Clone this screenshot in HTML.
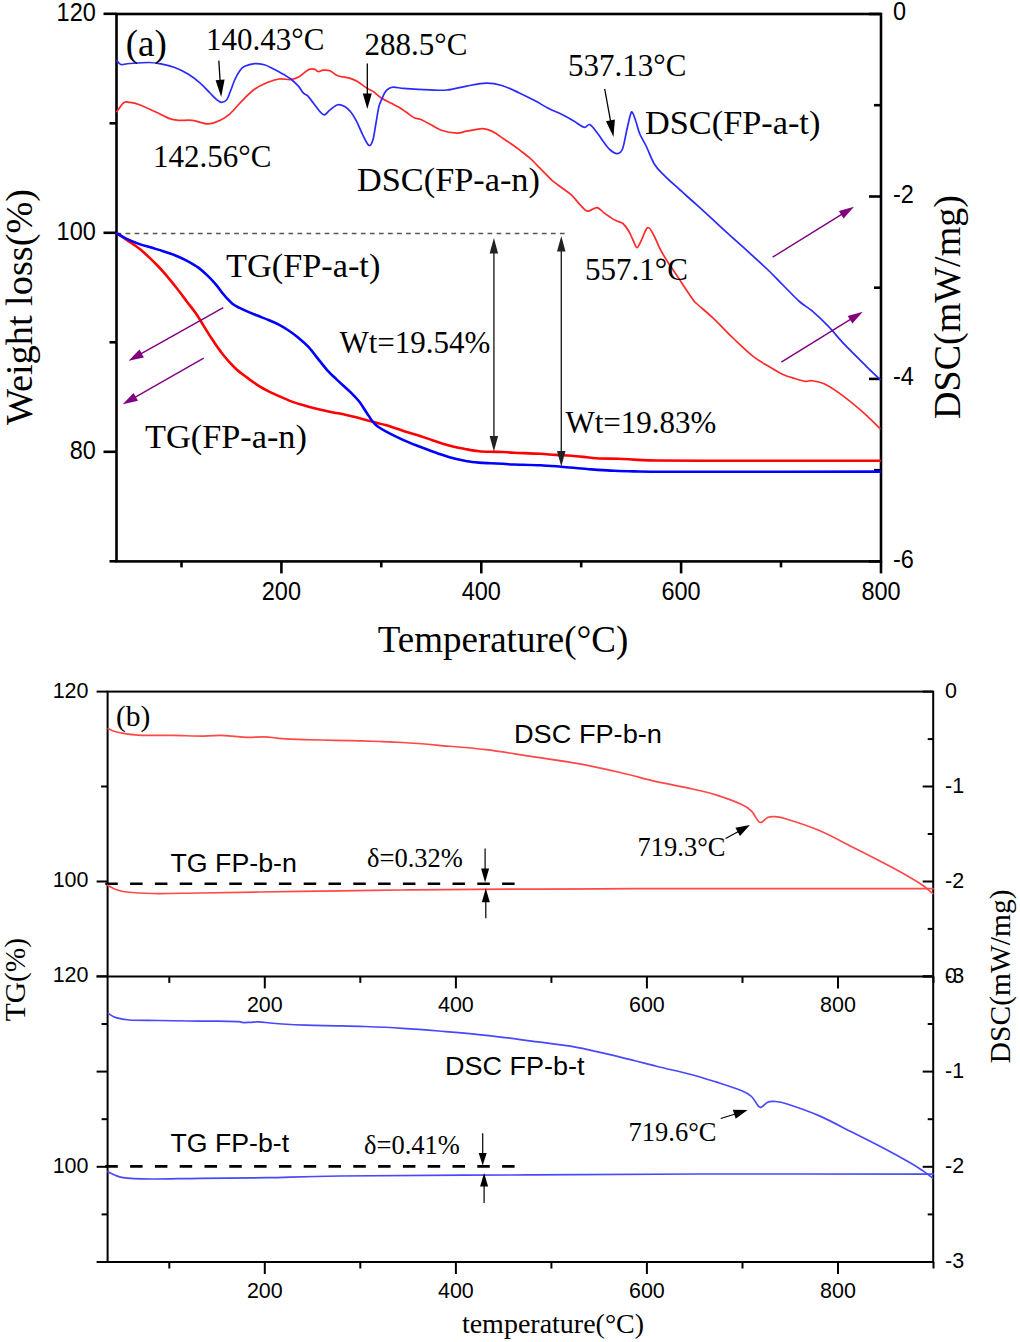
<!DOCTYPE html>
<html><head><meta charset="utf-8"><style>
html,body{margin:0;padding:0;background:#fff;width:1020px;height:1342px;overflow:hidden}
svg{display:block}
</style></head><body>
<svg width="1020" height="1342" viewBox="0 0 1020 1342">
<rect width="1020" height="1342" fill="#fff"/>
<rect x="116.5" y="14.0" width="764.5" height="547.4" fill="none" stroke="#000" stroke-width="2.6"/>
<line x1="181.5" y1="561.4" x2="181.5" y2="567.4" stroke="#000" stroke-width="2.60" />
<line x1="281.4" y1="561.4" x2="281.4" y2="573.4" stroke="#000" stroke-width="2.60" />
<text x="281.4" y="600.0" style="font-family:'Liberation Sans',sans-serif;font-size:25.0px" text-anchor="middle" fill="#000"  transform="translate(281.40,0) scale(0.9400,1) translate(-281.40,0)">200</text>
<line x1="381.3" y1="561.4" x2="381.3" y2="567.4" stroke="#000" stroke-width="2.60" />
<line x1="481.3" y1="561.4" x2="481.3" y2="573.4" stroke="#000" stroke-width="2.60" />
<text x="481.3" y="600.0" style="font-family:'Liberation Sans',sans-serif;font-size:25.0px" text-anchor="middle" fill="#000"  transform="translate(481.26,0) scale(0.9400,1) translate(-481.26,0)">400</text>
<line x1="581.2" y1="561.4" x2="581.2" y2="567.4" stroke="#000" stroke-width="2.60" />
<line x1="681.1" y1="561.4" x2="681.1" y2="573.4" stroke="#000" stroke-width="2.60" />
<text x="681.1" y="600.0" style="font-family:'Liberation Sans',sans-serif;font-size:25.0px" text-anchor="middle" fill="#000"  transform="translate(681.12,0) scale(0.9400,1) translate(-681.12,0)">600</text>
<line x1="781.0" y1="561.4" x2="781.0" y2="567.4" stroke="#000" stroke-width="2.60" />
<line x1="881.0" y1="561.4" x2="881.0" y2="573.4" stroke="#000" stroke-width="2.60" />
<text x="881.0" y="600.0" style="font-family:'Liberation Sans',sans-serif;font-size:25.0px" text-anchor="middle" fill="#000"  transform="translate(880.98,0) scale(0.9400,1) translate(-880.98,0)">800</text>
<line x1="116.5" y1="13.8" x2="103.5" y2="13.8" stroke="#000" stroke-width="2.60" />
<text x="95.8" y="20.6" style="font-family:'Liberation Sans',sans-serif;font-size:25.0px" text-anchor="end" fill="#000"  transform="translate(95.80,0) scale(0.9400,1) translate(-95.80,0)">120</text>
<line x1="116.5" y1="123.3" x2="109.5" y2="123.3" stroke="#000" stroke-width="2.60" />
<line x1="116.5" y1="232.8" x2="103.5" y2="232.8" stroke="#000" stroke-width="2.60" />
<text x="95.8" y="239.6" style="font-family:'Liberation Sans',sans-serif;font-size:25.0px" text-anchor="end" fill="#000"  transform="translate(95.80,0) scale(0.9400,1) translate(-95.80,0)">100</text>
<line x1="116.5" y1="342.3" x2="109.5" y2="342.3" stroke="#000" stroke-width="2.60" />
<line x1="116.5" y1="451.8" x2="103.5" y2="451.8" stroke="#000" stroke-width="2.60" />
<text x="95.8" y="458.6" style="font-family:'Liberation Sans',sans-serif;font-size:25.0px" text-anchor="end" fill="#000"  transform="translate(95.80,0) scale(0.9400,1) translate(-95.80,0)">80</text>
<line x1="116.5" y1="561.3" x2="109.5" y2="561.3" stroke="#000" stroke-width="2.60" />
<line x1="881.0" y1="14.0" x2="869.0" y2="14.0" stroke="#000" stroke-width="2.60" />
<text x="893.0" y="20.3" style="font-family:'Liberation Sans',sans-serif;font-size:25.0px" text-anchor="start" fill="#000"  transform="translate(893.00,0) scale(0.9400,1) translate(-893.00,0)">0</text>
<line x1="881.0" y1="105.2" x2="874.0" y2="105.2" stroke="#000" stroke-width="2.60" />
<line x1="881.0" y1="196.5" x2="869.0" y2="196.5" stroke="#000" stroke-width="2.60" />
<text x="893.0" y="202.8" style="font-family:'Liberation Sans',sans-serif;font-size:25.0px" text-anchor="start" fill="#000"  transform="translate(893.00,0) scale(0.9400,1) translate(-893.00,0)">-2</text>
<line x1="881.0" y1="287.7" x2="874.0" y2="287.7" stroke="#000" stroke-width="2.60" />
<line x1="881.0" y1="378.9" x2="869.0" y2="378.9" stroke="#000" stroke-width="2.60" />
<text x="893.0" y="385.2" style="font-family:'Liberation Sans',sans-serif;font-size:25.0px" text-anchor="start" fill="#000"  transform="translate(893.00,0) scale(0.9400,1) translate(-893.00,0)">-4</text>
<line x1="881.0" y1="470.2" x2="874.0" y2="470.2" stroke="#000" stroke-width="2.60" />
<line x1="881.0" y1="561.4" x2="869.0" y2="561.4" stroke="#000" stroke-width="2.60" />
<text x="893.0" y="567.7" style="font-family:'Liberation Sans',sans-serif;font-size:25.0px" text-anchor="start" fill="#000"  transform="translate(893.00,0) scale(0.9400,1) translate(-893.00,0)">-6</text>
<text x="0.0" y="0.0" style="font-family:'Liberation Serif',serif;font-size:38.3px" text-anchor="middle" fill="#000" transform="translate(32,307) rotate(-90)">Weight loss(%)</text>
<text x="0.0" y="0.0" style="font-family:'Liberation Serif',serif;font-size:38.0px" text-anchor="middle" fill="#000" transform="translate(960,307) rotate(-90)">DSC(mW/mg)</text>
<text x="503.0" y="652.0" style="font-family:'Liberation Serif',serif;font-size:37.0px" text-anchor="middle" fill="#000" >Temperature(°C)</text>
<rect x="107.6" y="691.6" width="825.6" height="570.4" fill="none" stroke="#000" stroke-width="2.0"/>
<line x1="107.6" y1="976.4" x2="933.2" y2="976.4" stroke="#000" stroke-width="2.00" />
<line x1="169.3" y1="976.4" x2="169.3" y2="982.9" stroke="#000" stroke-width="2.00" />
<line x1="264.8" y1="976.4" x2="264.8" y2="988.4" stroke="#000" stroke-width="2.00" />
<text x="264.8" y="1012.5" style="font-family:'Liberation Sans',sans-serif;font-size:22.5px" text-anchor="middle" fill="#000"  transform="translate(264.80,0) scale(0.9550,1) translate(-264.80,0)">200</text>
<line x1="360.3" y1="976.4" x2="360.3" y2="982.9" stroke="#000" stroke-width="2.00" />
<line x1="455.9" y1="976.4" x2="455.9" y2="988.4" stroke="#000" stroke-width="2.00" />
<text x="455.9" y="1012.5" style="font-family:'Liberation Sans',sans-serif;font-size:22.5px" text-anchor="middle" fill="#000"  transform="translate(455.86,0) scale(0.9550,1) translate(-455.86,0)">400</text>
<line x1="551.4" y1="976.4" x2="551.4" y2="982.9" stroke="#000" stroke-width="2.00" />
<line x1="646.9" y1="976.4" x2="646.9" y2="988.4" stroke="#000" stroke-width="2.00" />
<text x="646.9" y="1012.5" style="font-family:'Liberation Sans',sans-serif;font-size:22.5px" text-anchor="middle" fill="#000"  transform="translate(646.92,0) scale(0.9550,1) translate(-646.92,0)">600</text>
<line x1="742.5" y1="976.4" x2="742.5" y2="982.9" stroke="#000" stroke-width="2.00" />
<line x1="838.0" y1="976.4" x2="838.0" y2="988.4" stroke="#000" stroke-width="2.00" />
<text x="838.0" y="1012.5" style="font-family:'Liberation Sans',sans-serif;font-size:22.5px" text-anchor="middle" fill="#000"  transform="translate(837.98,0) scale(0.9550,1) translate(-837.98,0)">800</text>
<line x1="933.5" y1="976.4" x2="933.5" y2="982.9" stroke="#000" stroke-width="2.00" />
<line x1="107.6" y1="691.6" x2="96.6" y2="691.6" stroke="#000" stroke-width="2.00" />
<text x="88.5" y="697.6" style="font-family:'Liberation Sans',sans-serif;font-size:22.5px" text-anchor="end" fill="#000"  transform="translate(88.50,0) scale(0.9550,1) translate(-88.50,0)">120</text>
<line x1="107.6" y1="786.5" x2="101.1" y2="786.5" stroke="#000" stroke-width="2.00" />
<line x1="107.6" y1="881.5" x2="96.6" y2="881.5" stroke="#000" stroke-width="2.00" />
<text x="88.5" y="887.5" style="font-family:'Liberation Sans',sans-serif;font-size:22.5px" text-anchor="end" fill="#000"  transform="translate(88.50,0) scale(0.9550,1) translate(-88.50,0)">100</text>
<line x1="107.6" y1="976.4" x2="96.6" y2="976.4" stroke="#000" stroke-width="2.00" />
<line x1="933.2" y1="691.6" x2="922.7" y2="691.6" stroke="#000" stroke-width="2.00" />
<line x1="933.2" y1="739.1" x2="927.7" y2="739.1" stroke="#000" stroke-width="2.00" />
<line x1="933.2" y1="786.5" x2="922.7" y2="786.5" stroke="#000" stroke-width="2.00" />
<line x1="933.2" y1="834.0" x2="927.7" y2="834.0" stroke="#000" stroke-width="2.00" />
<line x1="933.2" y1="881.5" x2="922.7" y2="881.5" stroke="#000" stroke-width="2.00" />
<line x1="933.2" y1="928.9" x2="927.7" y2="928.9" stroke="#000" stroke-width="2.00" />
<line x1="933.2" y1="976.4" x2="922.7" y2="976.4" stroke="#000" stroke-width="2.00" />
<line x1="169.3" y1="1262.0" x2="169.3" y2="1268.5" stroke="#000" stroke-width="2.00" />
<line x1="264.8" y1="1262.0" x2="264.8" y2="1274.0" stroke="#000" stroke-width="2.00" />
<text x="264.8" y="1298.2" style="font-family:'Liberation Sans',sans-serif;font-size:22.5px" text-anchor="middle" fill="#000"  transform="translate(264.80,0) scale(0.9550,1) translate(-264.80,0)">200</text>
<line x1="360.3" y1="1262.0" x2="360.3" y2="1268.5" stroke="#000" stroke-width="2.00" />
<line x1="455.9" y1="1262.0" x2="455.9" y2="1274.0" stroke="#000" stroke-width="2.00" />
<text x="455.9" y="1298.2" style="font-family:'Liberation Sans',sans-serif;font-size:22.5px" text-anchor="middle" fill="#000"  transform="translate(455.86,0) scale(0.9550,1) translate(-455.86,0)">400</text>
<line x1="551.4" y1="1262.0" x2="551.4" y2="1268.5" stroke="#000" stroke-width="2.00" />
<line x1="646.9" y1="1262.0" x2="646.9" y2="1274.0" stroke="#000" stroke-width="2.00" />
<text x="646.9" y="1298.2" style="font-family:'Liberation Sans',sans-serif;font-size:22.5px" text-anchor="middle" fill="#000"  transform="translate(646.92,0) scale(0.9550,1) translate(-646.92,0)">600</text>
<line x1="742.5" y1="1262.0" x2="742.5" y2="1268.5" stroke="#000" stroke-width="2.00" />
<line x1="838.0" y1="1262.0" x2="838.0" y2="1274.0" stroke="#000" stroke-width="2.00" />
<text x="838.0" y="1298.2" style="font-family:'Liberation Sans',sans-serif;font-size:22.5px" text-anchor="middle" fill="#000"  transform="translate(837.98,0) scale(0.9550,1) translate(-837.98,0)">800</text>
<line x1="933.5" y1="1262.0" x2="933.5" y2="1268.5" stroke="#000" stroke-width="2.00" />
<line x1="107.6" y1="976.4" x2="96.6" y2="976.4" stroke="#000" stroke-width="2.00" />
<text x="88.5" y="982.4" style="font-family:'Liberation Sans',sans-serif;font-size:22.5px" text-anchor="end" fill="#000"  transform="translate(88.50,0) scale(0.9550,1) translate(-88.50,0)">120</text>
<line x1="107.6" y1="1024.0" x2="101.6" y2="1024.0" stroke="#000" stroke-width="2.00" />
<line x1="107.6" y1="1071.6" x2="96.6" y2="1071.6" stroke="#000" stroke-width="2.00" />
<line x1="107.6" y1="1119.2" x2="101.6" y2="1119.2" stroke="#000" stroke-width="2.00" />
<line x1="107.6" y1="1166.8" x2="96.6" y2="1166.8" stroke="#000" stroke-width="2.00" />
<text x="88.5" y="1172.8" style="font-family:'Liberation Sans',sans-serif;font-size:22.5px" text-anchor="end" fill="#000"  transform="translate(88.50,0) scale(0.9550,1) translate(-88.50,0)">100</text>
<line x1="107.6" y1="1214.4" x2="101.6" y2="1214.4" stroke="#000" stroke-width="2.00" />
<line x1="107.6" y1="1262.0" x2="96.6" y2="1262.0" stroke="#000" stroke-width="2.00" />
<line x1="933.2" y1="976.4" x2="922.7" y2="976.4" stroke="#000" stroke-width="2.00" />
<line x1="933.2" y1="1024.0" x2="927.7" y2="1024.0" stroke="#000" stroke-width="2.00" />
<line x1="933.2" y1="1071.6" x2="922.7" y2="1071.6" stroke="#000" stroke-width="2.00" />
<line x1="933.2" y1="1119.2" x2="927.7" y2="1119.2" stroke="#000" stroke-width="2.00" />
<line x1="933.2" y1="1166.8" x2="922.7" y2="1166.8" stroke="#000" stroke-width="2.00" />
<line x1="933.2" y1="1214.4" x2="927.7" y2="1214.4" stroke="#000" stroke-width="2.00" />
<line x1="933.2" y1="1262.0" x2="922.7" y2="1262.0" stroke="#000" stroke-width="2.00" />
<text x="945.0" y="698.1" style="font-family:'Liberation Sans',sans-serif;font-size:22.5px" text-anchor="start" fill="#000"  transform="translate(945.00,0) scale(0.9550,1) translate(-945.00,0)">0</text>
<text x="945.0" y="793.0" style="font-family:'Liberation Sans',sans-serif;font-size:22.5px" text-anchor="start" fill="#000"  transform="translate(945.00,0) scale(0.9550,1) translate(-945.00,0)">-1</text>
<text x="945.0" y="888.0" style="font-family:'Liberation Sans',sans-serif;font-size:22.5px" text-anchor="start" fill="#000"  transform="translate(945.00,0) scale(0.9550,1) translate(-945.00,0)">-2</text>
<text x="945.0" y="982.9" style="font-family:'Liberation Sans',sans-serif;font-size:22.5px" text-anchor="start" fill="#000"  transform="translate(945.00,0) scale(0.9550,1) translate(-945.00,0)">-3</text>
<text x="945.0" y="982.9" style="font-family:'Liberation Sans',sans-serif;font-size:22.5px" text-anchor="start" fill="#000"  transform="translate(945.00,0) scale(0.9550,1) translate(-945.00,0)">0</text>
<text x="945.0" y="1078.1" style="font-family:'Liberation Sans',sans-serif;font-size:22.5px" text-anchor="start" fill="#000"  transform="translate(945.00,0) scale(0.9550,1) translate(-945.00,0)">-1</text>
<text x="945.0" y="1173.3" style="font-family:'Liberation Sans',sans-serif;font-size:22.5px" text-anchor="start" fill="#000"  transform="translate(945.00,0) scale(0.9550,1) translate(-945.00,0)">-2</text>
<text x="945.0" y="1268.5" style="font-family:'Liberation Sans',sans-serif;font-size:22.5px" text-anchor="start" fill="#000"  transform="translate(945.00,0) scale(0.9550,1) translate(-945.00,0)">-3</text>
<text x="0.0" y="0.0" style="font-family:'Liberation Serif',serif;font-size:29.5px" text-anchor="middle" fill="#000" transform="translate(24.5,979.6) rotate(-90)">TG(%)</text>
<text x="0.0" y="0.0" style="font-family:'Liberation Serif',serif;font-size:29.5px" text-anchor="middle" fill="#000" transform="translate(1010,976.4) rotate(-90)">DSC(mW/mg)</text>
<text x="553.0" y="1333.4" style="font-family:'Liberation Serif',serif;font-size:28.0px" text-anchor="middle" fill="#000" >temperature(°C)</text>
<line x1="116.5" y1="233.5" x2="566.3" y2="233.5" stroke="#555" stroke-width="1.5" stroke-dasharray="4.7,4.35"/>
<path d="M116.9,111.6 C118.0,110.1 121.6,104.2 123.7,102.7 C125.8,101.2 127.0,102.1 129.6,102.4 C132.2,102.7 134.5,102.9 139.4,104.7 C144.3,106.5 154.1,111.2 159.0,113.5 C163.9,115.8 165.5,117.2 168.8,118.4 C172.1,119.6 174.7,120.1 178.6,120.4 C182.5,120.7 187.5,119.8 192.4,120.4 C197.3,121.0 203.4,123.9 208.0,123.9 C212.6,123.9 216.1,122.1 219.8,120.4 C223.5,118.7 226.2,117.2 230.0,113.8 C233.8,110.4 238.6,104.2 242.7,100.1 C246.8,96.0 250.4,92.2 254.5,89.3 C258.6,86.4 263.2,84.2 267.3,82.5 C271.4,80.8 275.1,79.5 279.0,79.0 C282.9,78.5 287.5,79.8 290.8,79.5 C294.1,79.2 295.7,78.7 298.6,77.1 C301.5,75.5 305.8,71.0 308.4,69.7 C311.0,68.4 312.7,68.9 314.3,69.2 C315.9,69.5 316.7,71.5 318.2,71.7 C319.7,71.9 321.1,70.4 323.1,70.2 C325.1,70.0 327.6,69.8 330.0,70.7 C332.4,71.6 334.5,74.5 337.8,75.7 C341.1,76.9 346.3,77.1 349.6,78.1 C352.9,79.1 354.6,79.9 357.5,81.6 C360.4,83.3 364.7,86.8 367.3,88.4 C369.9,90.0 370.8,89.9 373.1,91.4 C375.4,93.0 378.1,95.8 381.0,97.7 C383.9,99.7 387.9,101.5 390.8,103.1 C393.7,104.7 396.1,105.6 398.6,107.1 C401.1,108.6 403.4,110.2 406.0,112.0 C408.6,113.8 411.9,116.6 414.3,117.8 C416.7,119.0 417.6,118.2 420.2,119.3 C422.8,120.4 426.5,122.4 430.0,124.2 C433.5,126.0 436.7,128.7 441.2,130.2 C445.7,131.7 452.6,132.9 456.9,133.1 C461.1,133.3 462.8,131.9 466.7,131.2 C470.6,130.5 476.6,129.1 480.0,128.8 C483.4,128.5 484.4,128.7 487.0,129.4 C489.6,130.1 492.6,131.3 495.3,132.9 C498.1,134.5 500.9,137.0 503.5,138.8 C506.1,140.6 508.1,141.7 510.6,143.5 C513.1,145.3 515.7,147.1 518.8,149.4 C521.9,151.8 526.4,155.1 529.4,157.6 C532.4,160.1 533.8,161.9 536.5,164.7 C539.2,167.4 543.2,171.3 545.9,174.1 C548.6,176.8 550.1,178.8 552.9,181.2 C555.6,183.5 559.2,185.8 562.4,188.2 C565.5,190.5 568.9,192.6 571.8,195.3 C574.7,198.1 577.6,202.1 580.0,204.7 C582.4,207.2 584.2,209.6 585.9,210.6 C587.6,211.6 588.1,211.1 590.0,210.6 C591.9,210.1 594.8,207.2 597.1,207.6 C599.5,208.0 602.0,211.3 604.1,212.9 C606.2,214.5 608.0,215.7 610.0,217.0 C612.0,218.3 613.8,219.5 615.9,220.6 C618.0,221.7 620.8,221.7 622.9,223.5 C625.0,225.3 627.1,228.4 628.8,231.2 C630.5,233.9 631.6,237.3 633.0,240.0 C634.4,242.7 635.6,247.7 637.1,247.6 C638.6,247.5 640.0,242.7 641.8,239.4 C643.5,236.1 645.6,228.4 647.6,227.6 C649.6,226.8 651.3,231.0 653.5,234.7 C655.7,238.4 658.2,245.5 660.6,250.0 C663.0,254.5 664.5,256.9 667.6,261.8 C670.7,266.7 675.3,273.2 679.4,279.4 C683.5,285.6 689.5,294.8 692.4,298.8 C695.2,302.8 693.1,300.3 696.5,303.5 C699.9,306.7 706.7,312.1 712.9,317.9 C719.1,323.7 726.6,332.0 733.5,338.5 C740.4,345.0 747.9,352.3 754.1,357.1 C760.3,361.9 765.8,364.5 770.6,367.4 C775.4,370.3 778.8,372.7 782.9,374.6 C787.0,376.5 791.5,377.6 795.3,378.7 C799.1,379.8 802.9,381.1 805.6,381.4 C808.4,381.7 808.7,380.3 811.8,380.7 C814.9,381.1 819.3,381.6 824.1,383.8 C828.9,386.0 834.4,389.6 840.6,394.1 C846.8,398.6 854.6,404.9 861.2,410.6 C867.8,416.3 876.9,425.5 880.0,428.5" fill="none" stroke="#ff2a2a" stroke-width="1.70" stroke-linejoin="round" stroke-linecap="round" />
<path d="M116.9,60.6 C117.6,61.2 118.7,64.0 120.8,64.5 C122.9,65.0 124.9,63.8 129.6,63.5 C134.3,63.2 144.0,62.4 149.2,62.5 C154.4,62.6 156.8,63.1 161.0,63.9 C165.2,64.7 170.1,65.8 174.7,67.5 C179.3,69.2 184.2,71.7 188.4,74.3 C192.7,76.9 196.6,80.0 200.2,83.1 C203.8,86.2 207.2,90.2 210.0,93.0 C212.8,95.8 214.9,98.2 216.9,99.8 C218.9,101.4 220.2,102.4 221.8,102.4 C223.4,102.4 225.3,101.5 226.7,99.8 C228.1,98.1 228.6,95.7 230.0,92.3 C231.4,88.9 233.3,83.1 234.9,79.5 C236.5,75.9 238.2,72.9 239.8,70.7 C241.4,68.5 242.2,67.5 244.7,66.3 C247.1,65.1 251.2,63.9 254.5,63.6 C257.8,63.4 261.0,63.9 264.3,64.8 C267.6,65.7 270.8,67.6 274.1,69.2 C277.4,70.8 281.1,73.0 283.9,74.6 C286.7,76.2 288.4,77.0 290.8,79.0 C293.2,81.0 296.5,84.0 298.6,86.4 C300.7,88.8 302.0,91.7 303.5,93.2 C305.0,94.8 305.9,94.1 307.5,95.7 C309.1,97.3 311.2,100.3 313.3,103.0 C315.4,105.7 318.3,109.9 320.2,111.9 C322.1,113.9 323.0,115.1 324.6,114.8 C326.2,114.5 327.8,111.6 330.0,109.9 C332.2,108.2 335.2,105.3 337.6,104.7 C340.1,104.1 342.5,105.3 344.7,106.5 C346.9,107.7 348.6,109.3 350.6,111.8 C352.6,114.2 354.5,117.5 356.5,121.2 C358.5,124.9 360.3,130.1 362.4,134.1 C364.4,138.1 367.1,144.3 368.8,145.3 C370.6,146.3 371.7,143.6 372.9,140.0 C374.1,136.4 374.9,129.0 375.9,123.5 C376.9,118.0 377.9,110.8 378.8,107.0 C379.7,103.2 380.2,102.9 381.2,100.5 C382.2,98.1 383.6,94.5 384.9,92.5 C386.2,90.5 387.3,89.5 388.8,88.6 C390.3,87.7 391.2,87.2 393.7,87.2 C396.1,87.2 399.4,88.0 403.5,88.4 C407.6,88.8 413.8,89.2 418.2,89.4 C422.6,89.7 425.2,89.8 430.0,89.9 C434.8,90.0 440.9,90.6 447.0,90.0 C453.1,89.4 460.1,87.2 466.7,86.1 C473.2,84.9 480.4,83.2 486.3,83.1 C492.2,83.0 496.3,83.9 501.8,85.5 C507.3,87.1 513.9,90.4 519.4,92.9 C524.9,95.5 530.2,98.2 535.1,100.8 C540.0,103.4 544.3,106.3 548.8,108.6 C553.3,110.9 558.0,112.5 562.0,114.5 C566.0,116.5 569.3,118.4 573.0,120.5 C576.7,122.6 581.3,126.6 584.1,127.3 C586.9,128.0 587.5,123.6 589.7,124.6 C591.9,125.6 595.2,130.3 597.5,133.2 C599.8,136.1 601.6,139.2 603.7,142.0 C605.8,144.8 608.0,148.1 610.3,150.0 C612.5,151.9 615.2,153.8 617.2,153.6 C619.2,153.4 620.9,152.9 622.5,149.0 C624.1,145.1 625.5,135.6 626.8,130.0 C628.1,124.4 629.3,118.5 630.2,115.5 C631.1,112.5 631.3,111.4 632.2,112.2 C633.1,113.0 634.4,116.9 635.6,120.5 C636.9,124.1 637.9,129.3 639.7,133.7 C641.5,138.1 644.2,141.9 646.6,147.0 C649.0,152.1 651.5,159.5 654.4,164.2 C657.3,168.9 660.3,171.4 664.2,175.4 C668.1,179.4 672.6,183.3 678.0,188.2 C683.4,193.1 689.3,198.2 696.5,204.7 C703.7,211.2 713.7,220.5 721.2,227.4 C728.8,234.3 734.2,239.1 741.8,245.9 C749.3,252.8 759.6,262.0 766.5,268.5 C773.4,275.0 777.4,279.5 782.9,285.0 C788.4,290.5 794.6,297.2 799.4,301.5 C804.2,305.8 807.0,306.6 811.8,310.7 C816.6,314.8 822.7,320.5 828.2,326.2 C833.7,331.9 838.5,338.2 844.7,344.7 C850.9,351.2 859.4,359.5 865.3,365.3 C871.2,371.1 877.5,377.1 880.0,379.5" fill="none" stroke="#2a2aff" stroke-width="1.70" stroke-linejoin="round" stroke-linecap="round" />
<path d="M116.9,233.3 C118.7,234.5 124.0,238.0 127.8,240.6 C131.6,243.2 136.0,246.1 139.5,248.8 C143.0,251.6 145.8,254.2 148.9,257.1 C152.1,260.1 155.2,263.2 158.4,266.5 C161.6,269.8 164.7,273.4 167.8,277.1 C170.9,280.8 174.1,284.8 177.2,288.8 C180.3,292.8 183.5,297.1 186.6,301.2 C189.7,305.3 193.6,310.1 196.0,313.5 C198.4,316.9 198.6,317.6 201.2,321.8 C203.8,326.0 208.1,333.2 211.8,338.8 C215.5,344.4 219.6,350.4 223.5,355.3 C227.4,360.2 231.4,364.5 235.3,368.2 C239.2,371.9 243.2,374.7 247.1,377.6 C251.0,380.6 254.9,383.4 258.8,385.9 C262.7,388.4 266.7,390.4 270.6,392.4 C274.5,394.3 278.5,395.9 282.4,397.6 C286.3,399.3 290.2,401.0 294.1,402.4 C298.0,403.8 301.3,404.6 305.9,405.9 C310.5,407.2 317.2,408.9 321.8,410.0 C326.4,411.1 329.6,411.6 333.5,412.4 C337.4,413.2 341.4,413.8 345.3,414.7 C349.2,415.6 352.6,416.4 357.1,417.6 C361.6,418.8 367.5,420.5 372.4,421.8 C377.3,423.1 381.2,423.7 386.5,425.3 C391.8,426.9 398.5,429.4 404.1,431.2 C409.7,433.0 415.4,434.4 420.0,435.9 C424.6,437.4 427.9,438.6 431.8,440.0 C435.7,441.4 439.6,442.9 443.5,444.1 C447.4,445.3 451.4,446.2 455.3,447.1 C459.2,448.0 463.2,448.7 467.1,449.4 C471.0,450.1 474.9,450.8 478.8,451.2 C482.7,451.6 486.7,451.7 490.6,451.8 C494.5,451.9 498.5,451.9 502.4,452.0 C506.3,452.1 507.8,452.4 514.1,452.7 C520.4,453.0 533.1,453.4 540.0,453.8 C546.9,454.2 550.5,454.6 555.7,454.9 C560.9,455.2 566.2,455.3 571.4,455.7 C576.6,456.1 582.4,456.8 587.1,457.3 C591.8,457.8 594.4,458.3 599.6,458.5 C604.8,458.7 612.6,458.5 618.4,458.7 C624.1,458.9 628.9,459.3 634.1,459.6 C639.3,459.9 638.8,460.2 649.8,460.4 C660.8,460.6 661.6,460.6 700.0,460.7 C738.4,460.8 850.0,460.8 880.0,460.8" fill="none" stroke="#ff0000" stroke-width="2.60" stroke-linejoin="round" stroke-linecap="round" />
<path d="M116.9,233.3 C118.7,234.3 124.0,237.6 127.8,239.4 C131.6,241.2 135.6,242.7 139.5,244.1 C143.4,245.5 147.4,246.4 151.3,247.6 C155.2,248.8 159.2,249.9 163.1,251.2 C167.0,252.5 170.9,253.7 174.8,255.3 C178.7,256.9 182.7,258.6 186.6,260.6 C190.5,262.7 194.9,265.1 198.4,267.6 C201.9,270.2 204.9,273.0 207.8,275.9 C210.7,278.8 213.7,281.9 216.0,284.7 C218.3,287.4 220.2,290.2 221.9,292.4 C223.7,294.6 224.7,295.9 226.5,297.8 C228.3,299.7 230.5,302.3 232.7,304.0 C234.9,305.7 236.8,306.5 239.6,307.9 C242.4,309.3 246.1,311.0 249.4,312.4 C252.7,313.8 255.9,315.0 259.2,316.3 C262.5,317.6 265.7,318.8 269.0,320.2 C272.3,321.6 275.5,322.9 278.8,324.6 C282.1,326.3 285.3,328.3 288.6,330.5 C291.9,332.7 295.1,335.1 298.4,337.8 C301.7,340.5 304.7,342.9 308.2,346.7 C311.7,350.5 316.2,356.6 319.4,360.6 C322.6,364.6 325.2,368.0 327.6,370.6 C330.0,373.2 330.9,374.1 333.5,376.5 C336.1,378.9 339.9,382.6 342.9,385.3 C345.8,388.0 348.4,390.1 351.2,392.9 C353.9,395.6 356.8,398.6 359.4,401.8 C361.9,405.1 364.3,409.2 366.5,412.4 C368.7,415.6 370.7,419.0 372.4,421.2 C374.1,423.4 374.4,423.9 376.5,425.6 C378.6,427.3 381.9,429.3 385.3,431.2 C388.7,433.1 393.0,435.2 397.1,437.1 C401.2,439.1 406.2,441.3 410.0,442.9 C413.8,444.5 416.4,445.4 420.0,446.8 C423.6,448.2 427.9,449.8 431.8,451.2 C435.7,452.6 439.6,454.0 443.5,455.3 C447.4,456.6 451.4,457.8 455.3,458.8 C459.2,459.8 463.2,460.6 467.1,461.2 C471.0,461.8 474.9,462.2 478.8,462.6 C482.7,463.0 486.7,463.1 490.6,463.3 C494.5,463.5 498.5,463.6 502.4,463.8 C506.3,464.0 507.8,464.3 514.1,464.5 C520.4,464.7 532.1,464.8 540.0,465.2 C547.9,465.6 553.4,466.1 561.2,466.7 C569.1,467.3 578.9,468.4 587.1,469.0 C595.3,469.6 602.8,470.2 610.6,470.6 C618.4,471.0 619.2,471.2 634.1,471.4 C649.0,471.6 659.0,471.8 700.0,471.8 C741.0,471.8 850.0,471.6 880.0,471.6" fill="none" stroke="#0000ff" stroke-width="2.60" stroke-linejoin="round" stroke-linecap="round" />
<line x1="218.8" y1="60.6" x2="220.2" y2="81.9" stroke="#000" stroke-width="1.30"/>
<polygon points="221.2,96.9 215.6,80.2 224.6,79.6" fill="#000"/>
<line x1="367.3" y1="63.5" x2="367.3" y2="95.5" stroke="#000" stroke-width="1.30"/>
<polygon points="367.3,109.0 362.8,93.5 371.8,93.5" fill="#000"/>
<line x1="604.7" y1="89.0" x2="610.8" y2="122.3" stroke="#000" stroke-width="1.30"/>
<polygon points="613.5,137.1 606.0,121.2 614.9,119.6" fill="#000"/>
<line x1="493.9" y1="300.0" x2="493.9" y2="251.4" stroke="#222" stroke-width="1.40"/>
<polygon points="493.9,237.9 498.1,253.4 489.6,253.4" fill="#222"/>
<line x1="493.9" y1="300.0" x2="493.9" y2="438.1" stroke="#222" stroke-width="1.40"/>
<polygon points="493.9,451.6 489.6,436.1 498.1,436.1" fill="#222"/>
<line x1="561.3" y1="300.0" x2="561.3" y2="249.4" stroke="#222" stroke-width="1.40"/>
<polygon points="561.3,235.9 565.5,251.4 557.0,251.4" fill="#222"/>
<line x1="561.3" y1="300.0" x2="561.3" y2="452.9" stroke="#222" stroke-width="1.40"/>
<polygon points="561.3,466.4 557.0,450.9 565.5,450.9" fill="#222"/>
<line x1="772.6" y1="257.2" x2="842.9" y2="213.6" stroke="#800080" stroke-width="1.40"/>
<polygon points="854.0,206.8 843.6,218.5 838.9,210.9" fill="#800080"/>
<line x1="781.3" y1="362.2" x2="851.7" y2="318.6" stroke="#800080" stroke-width="1.40"/>
<polygon points="862.8,311.8 852.4,323.5 847.7,315.9" fill="#800080"/>
<line x1="223.3" y1="307.6" x2="139.9" y2="354.4" stroke="#800080" stroke-width="1.40"/>
<polygon points="128.6,360.8 139.5,349.5 143.9,357.4" fill="#800080"/>
<line x1="203.7" y1="358.2" x2="134.0" y2="397.9" stroke="#800080" stroke-width="1.40"/>
<polygon points="122.7,404.3 133.5,393.0 138.0,400.8" fill="#800080"/>
<text x="125.8" y="56.2" style="font-family:'Liberation Serif',serif;font-size:37.0px" text-anchor="start" fill="#000" >(a)</text>
<text x="206.0" y="50.1" style="font-family:'Liberation Serif',serif;font-size:31.0px" text-anchor="start" fill="#000" >140.43°C</text>
<text x="364.5" y="54.7" style="font-family:'Liberation Serif',serif;font-size:31.0px" text-anchor="start" fill="#000" >288.5°C</text>
<text x="568.0" y="76.3" style="font-family:'Liberation Serif',serif;font-size:31.0px" text-anchor="start" fill="#000" >537.13°C</text>
<text x="153.0" y="167.0" style="font-family:'Liberation Serif',serif;font-size:31.0px" text-anchor="start" fill="#000" >142.56°C</text>
<text x="357.0" y="191.4" style="font-family:'Liberation Serif',serif;font-size:34.3px" text-anchor="start" fill="#000" >DSC(FP-a-n)</text>
<text x="645.0" y="133.8" style="font-family:'Liberation Serif',serif;font-size:34.3px" text-anchor="start" fill="#000" >DSC(FP-a-t)</text>
<text x="585.0" y="280.0" style="font-family:'Liberation Serif',serif;font-size:31.0px" text-anchor="start" fill="#000" >557.1°C</text>
<text x="226.0" y="276.6" style="font-family:'Liberation Serif',serif;font-size:34.3px" text-anchor="start" fill="#000" >TG(FP-a-t)</text>
<text x="339.5" y="353.3" style="font-family:'Liberation Serif',serif;font-size:31.0px" text-anchor="start" fill="#000" >Wt=19.54%</text>
<text x="565.5" y="432.8" style="font-family:'Liberation Serif',serif;font-size:31.0px" text-anchor="start" fill="#000" >Wt=19.83%</text>
<text x="145.0" y="448.0" style="font-family:'Liberation Serif',serif;font-size:34.3px" text-anchor="start" fill="#000" >TG(FP-a-n)</text>
<line x1="105.3" y1="883.8" x2="515.7" y2="883.8" stroke="#000" stroke-width="2.6" stroke-dasharray="12.5,12.3"/>
<line x1="105.3" y1="1166.4" x2="515.7" y2="1166.4" stroke="#000" stroke-width="2.6" stroke-dasharray="12.5,12.3"/>
<path d="M108.2,728.6 C109.2,729.0 111.5,730.4 114.0,731.2 C116.5,732.0 119.5,732.8 123.5,733.4 C127.5,734.0 132.9,734.8 138.2,735.1 C143.4,735.4 149.1,735.4 155.0,735.4 C160.9,735.4 165.5,735.3 173.5,735.4 C181.5,735.5 195.1,736.1 202.9,736.1 C210.8,736.1 215.7,735.4 220.6,735.4 C225.5,735.4 228.0,735.8 232.4,736.1 C236.8,736.4 241.7,737.3 247.1,737.4 C252.5,737.5 259.8,736.7 264.7,736.8 C269.6,736.9 272.1,737.7 276.5,738.1 C280.9,738.5 283.8,738.9 291.2,739.2 C298.6,739.5 310.8,739.8 320.6,740.0 C330.4,740.2 340.2,740.4 350.0,740.6 C359.8,740.9 370.6,741.2 379.4,741.5 C388.1,741.8 392.6,741.9 402.5,742.5 C412.4,743.1 424.9,744.1 438.8,745.3 C452.7,746.5 470.9,747.8 486.0,749.6 C501.1,751.4 514.4,753.9 529.5,756.2 C544.6,758.5 561.5,760.7 576.6,763.4 C591.7,766.1 606.9,769.5 620.2,772.5 C633.5,775.5 644.8,779.0 656.4,781.6 C668.0,784.2 680.1,786.2 690.0,788.4 C699.9,790.6 707.3,792.2 715.9,794.9 C724.5,797.6 735.9,801.9 741.8,804.6 C747.7,807.3 748.8,808.4 751.5,811.1 C754.2,813.8 756.4,818.9 758.0,820.8 C759.6,822.7 759.6,822.9 761.2,822.4 C762.8,821.9 765.6,818.5 767.7,817.5 C769.9,816.5 770.9,816.3 774.1,816.6 C777.3,816.9 779.6,816.9 787.1,819.2 C794.6,821.5 808.6,825.9 819.4,830.5 C830.2,835.1 841.0,841.2 851.8,846.7 C862.6,852.2 874.5,858.2 884.2,863.3 C893.9,868.4 903.6,873.7 910.1,877.4 C916.6,881.1 919.2,882.8 923.0,885.5 C926.8,888.2 931.1,892.2 932.7,893.6" fill="none" stroke="#ff4848" stroke-width="1.70" stroke-linejoin="round" stroke-linecap="round" />
<path d="M107.3,885.3 C108.8,886.0 112.8,888.4 116.0,889.5 C119.2,890.6 120.3,891.3 126.5,892.0 C132.7,892.7 140.8,893.3 153.0,893.5 C165.2,893.7 182.2,893.2 200.0,893.0 C217.8,892.8 236.7,892.4 260.0,892.0 C283.3,891.6 316.7,891.1 340.0,890.8 C363.3,890.5 377.5,890.2 400.0,890.0 C422.5,889.8 441.7,889.6 475.0,889.4 C508.3,889.2 562.5,888.9 600.0,888.8 C637.5,888.7 644.5,888.7 700.0,888.7 C755.5,888.7 894.2,888.7 933.0,888.7" fill="none" stroke="#ff4848" stroke-width="1.70" stroke-linejoin="round" stroke-linecap="round" />
<path d="M108.3,1013.6 C109.6,1014.3 112.5,1016.5 116.0,1017.6 C119.5,1018.7 122.3,1019.5 129.4,1020.0 C136.5,1020.5 149.0,1020.3 158.8,1020.5 C168.6,1020.7 178.4,1020.9 188.2,1021.0 C198.0,1021.1 209.3,1021.0 217.6,1021.1 C225.9,1021.2 233.8,1021.5 238.2,1021.7 C242.6,1022.0 242.0,1022.5 244.1,1022.6 C246.2,1022.7 248.1,1022.4 250.5,1022.3 C252.9,1022.2 255.6,1021.7 258.8,1021.8 C262.1,1021.9 266.1,1022.6 270.0,1023.0 C273.9,1023.4 276.4,1023.6 282.4,1024.0 C288.4,1024.4 297.1,1024.9 305.9,1025.2 C314.7,1025.5 325.5,1025.6 335.3,1025.8 C345.1,1026.0 353.5,1026.1 364.7,1026.5 C375.9,1026.9 390.1,1027.5 402.5,1028.3 C414.9,1029.0 424.9,1029.8 438.8,1031.0 C452.7,1032.2 470.9,1033.7 486.0,1035.3 C501.1,1036.9 514.4,1038.8 529.5,1040.8 C544.6,1042.8 561.5,1044.6 576.6,1047.3 C591.7,1050.0 606.9,1053.9 620.2,1057.1 C633.5,1060.2 644.8,1063.3 656.4,1066.2 C668.0,1069.1 680.1,1071.6 690.0,1074.2 C699.9,1076.8 707.3,1079.2 715.9,1081.9 C724.5,1084.7 735.9,1088.3 741.8,1090.7 C747.7,1093.1 748.8,1094.0 751.5,1096.5 C754.2,1099.0 756.4,1103.8 758.0,1105.6 C759.6,1107.4 759.6,1107.8 761.2,1107.2 C762.8,1106.7 765.6,1103.3 767.7,1102.3 C769.9,1101.3 770.9,1101.1 774.1,1101.4 C777.3,1101.7 779.6,1101.6 787.1,1104.0 C794.6,1106.4 808.6,1111.2 819.4,1115.9 C830.2,1120.6 841.0,1126.6 851.8,1132.1 C862.6,1137.5 874.5,1143.5 884.2,1148.6 C893.9,1153.7 903.6,1159.1 910.1,1162.8 C916.6,1166.5 919.2,1168.4 923.0,1170.9 C926.8,1173.5 931.1,1176.9 932.7,1178.1" fill="none" stroke="#4848ff" stroke-width="1.70" stroke-linejoin="round" stroke-linecap="round" />
<path d="M107.8,1171.7 C110.4,1172.7 115.7,1176.5 123.3,1177.7 C130.9,1178.9 140.5,1178.9 153.3,1179.0 C166.1,1179.1 181.1,1178.5 200.0,1178.3 C218.9,1178.1 243.4,1178.1 266.7,1177.7 C290.0,1177.3 299.3,1176.5 340.0,1176.0 C380.7,1175.5 451.0,1175.3 511.0,1175.0 C571.0,1174.7 629.7,1174.1 700.0,1174.0 C770.3,1173.9 894.2,1174.2 933.0,1174.2" fill="none" stroke="#4848ff" stroke-width="1.70" stroke-linejoin="round" stroke-linecap="round" />
<line x1="485.1" y1="848.6" x2="485.1" y2="870.5" stroke="#000" stroke-width="1.20"/>
<polygon points="485.1,882.5 481.1,868.5 489.1,868.5" fill="#000"/>
<line x1="485.8" y1="918.2" x2="485.8" y2="900.3" stroke="#000" stroke-width="1.20"/>
<polygon points="485.8,888.3 489.8,902.3 481.8,902.3" fill="#000"/>
<line x1="482.7" y1="1133.2" x2="482.7" y2="1155.0" stroke="#000" stroke-width="1.20"/>
<polygon points="482.7,1165.5 478.7,1153.0 486.7,1153.0" fill="#000"/>
<line x1="484.1" y1="1202.9" x2="484.1" y2="1184.4" stroke="#000" stroke-width="1.20"/>
<polygon points="484.1,1172.9 488.1,1186.4 480.1,1186.4" fill="#000"/>
<line x1="725.6" y1="838.6" x2="739.4" y2="830.9" stroke="#000" stroke-width="1.20"/>
<polygon points="749.9,825.0 740.0,836.0 735.4,827.7" fill="#000"/>
<line x1="720.7" y1="1118.5" x2="736.1" y2="1113.7" stroke="#000" stroke-width="1.20"/>
<polygon points="747.6,1110.1 735.7,1118.8 732.8,1109.7" fill="#000"/>
<text x="116.0" y="725.5" style="font-family:'Liberation Serif',serif;font-size:29.5px" text-anchor="start" fill="#000" >(b)</text>
<text x="514.0" y="743.5" style="font-family:'Liberation Sans',sans-serif;font-size:25.5px" text-anchor="start" fill="#000"  transform="translate(514.00,0) scale(1.0660,1) translate(-514.00,0)">DSC FP-b-n</text>
<text x="170.5" y="871.7" style="font-family:'Liberation Sans',sans-serif;font-size:25.5px" text-anchor="start" fill="#000"  transform="translate(170.50,0) scale(1.0500,1) translate(-170.50,0)">TG FP-b-n</text>
<text x="367.0" y="866.8" style="font-family:'Liberation Serif',serif;font-size:26.5px" text-anchor="start" fill="#000" >δ=0.32%</text>
<text x="637.5" y="856.0" style="font-family:'Liberation Serif',serif;font-size:26.5px" text-anchor="start" fill="#000" >719.3°C</text>
<text x="445.0" y="1075.2" style="font-family:'Liberation Sans',sans-serif;font-size:25.5px" text-anchor="start" fill="#000"  transform="translate(445.00,0) scale(1.0600,1) translate(-445.00,0)">DSC FP-b-t</text>
<text x="170.5" y="1151.7" style="font-family:'Liberation Sans',sans-serif;font-size:25.5px" text-anchor="start" fill="#000"  transform="translate(170.50,0) scale(1.0470,1) translate(-170.50,0)">TG FP-b-t</text>
<text x="364.0" y="1154.4" style="font-family:'Liberation Serif',serif;font-size:26.5px" text-anchor="start" fill="#000" >δ=0.41%</text>
<text x="628.5" y="1140.5" style="font-family:'Liberation Serif',serif;font-size:26.5px" text-anchor="start" fill="#000" >719.6°C</text>
</svg>
</body></html>
